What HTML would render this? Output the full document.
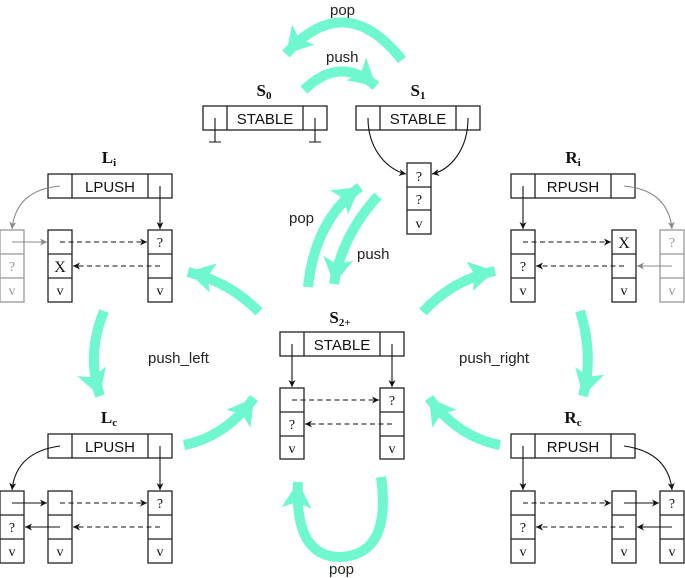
<!DOCTYPE html>
<html><head><meta charset="utf-8"><style>
html,body{margin:0;padding:0;background:#fff}
svg{display:block}
.s{font-family:"Liberation Sans",sans-serif;font-size:15px;fill:#222}
.h{font-family:"Liberation Sans",sans-serif;font-size:15px;fill:#111;text-anchor:middle}
.c{font-family:"Liberation Serif",serif;font-size:14px;fill:#111;text-anchor:middle}
.g{fill:#999}
.lb{font-family:"Liberation Serif",serif;font-size:17px;font-weight:bold;fill:#111;text-anchor:middle}
.sub{font-size:11px}
.box{fill:#fff;stroke:#222;stroke-width:1.3}
.gbox{fill:#fff;stroke:#999;stroke-width:1.3}
.t{fill:none;stroke:#6ff7cf;stroke-width:10}
.a{fill:none;stroke:#111;stroke-width:1.1}
.ga{fill:none;stroke:#888;stroke-width:1.1}
.d{stroke-dasharray:5,3.5}
</style></head><body>
<svg width="685" height="578" viewBox="0 0 685 578" xmlns="http://www.w3.org/2000/svg">
<defs>
<marker id="T" markerUnits="userSpaceOnUse" markerWidth="50" markerHeight="50" refX="6" refY="0" viewBox="-25 -25 50 50" orient="auto"><path d="M-20,-15 L6,0 L-20,15 L-14,0 Z" fill="#6ff7cf"/></marker>
<marker id="B" markerUnits="userSpaceOnUse" markerWidth="12" markerHeight="12" refX="0" refY="0" viewBox="-8 -6 12 12" orient="auto"><path d="M-7,-3.5 L0,0 L-7,3.5 L-5,0 Z" fill="#111"/></marker>
<marker id="G" markerUnits="userSpaceOnUse" markerWidth="12" markerHeight="12" refX="0" refY="0" viewBox="-8 -6 12 12" orient="auto"><path d="M-7,-3.5 L0,0 L-7,3.5 L-5,0 Z" fill="#888"/></marker>
</defs>

<!-- teal arrows -->
<path class="t" d="M402,60 Q345,-12 286,54" marker-end="url(#T)"/>
<path class="t" d="M304,90 Q340,55 376,86" marker-end="url(#T)"/>
<path class="t" d="M308,287 Q315,220 360,187" marker-end="url(#T)"/>
<path class="t" d="M378,196 Q342,235 334,284" marker-end="url(#T)"/>
<path class="t" d="M259,312 Q230,282 188,272" marker-end="url(#T)"/>
<path class="t" d="M423,312 Q452,280 495,271" marker-end="url(#T)"/>
<path class="t" d="M184,445 Q225,437 254,398" marker-end="url(#T)"/>
<path class="t" d="M500,445 Q458,437 429,398" marker-end="url(#T)"/>
<path class="t" d="M104,311 Q86,355 100,396" marker-end="url(#T)"/>
<path class="t" d="M580,311 Q594,355 583,396" marker-end="url(#T)"/>
<path class="t" d="M381,477 Q392,555 340,557 Q294,557 298,482" marker-end="url(#T)"/>

<!-- teal labels -->
<text class="s" x="330" y="15">pop</text>
<text class="s" x="326" y="62">push</text>
<text class="s" x="289" y="223">pop</text>
<text class="s" x="357" y="259">push</text>
<text class="s" x="148" y="363">push_left</text>
<text class="s" x="459" y="363">push_right</text>
<text class="s" x="329" y="574">pop</text>

<!-- state labels -->
<text class="lb" x="264" y="96">S<tspan class="sub" dy="3">0</tspan></text>
<text class="lb" x="418" y="96">S<tspan class="sub" dy="3">1</tspan></text>
<text class="lb" x="109" y="163">L<tspan class="sub" dy="3">i</tspan></text>
<text class="lb" x="573" y="163">R<tspan class="sub" dy="3">i</tspan></text>
<text class="lb" x="109" y="423">L<tspan class="sub" dy="3">c</tspan></text>
<text class="lb" x="573" y="423">R<tspan class="sub" dy="3">c</tspan></text>
<text class="lb" x="340" y="323">S<tspan class="sub" dy="3">2+</tspan></text>

<!-- headers -->
<g>
<rect class="box" x="203" y="106" width="124" height="24"/><line class="box" x1="227" y1="106" x2="227" y2="130"/><line class="box" x1="303" y1="106" x2="303" y2="130"/><text class="h" x="265" y="124">STABLE</text>
<rect class="box" x="356" y="106" width="124" height="24"/><line class="box" x1="380" y1="106" x2="380" y2="130"/><line class="box" x1="456" y1="106" x2="456" y2="130"/><text class="h" x="418" y="124">STABLE</text>
<rect class="box" x="48" y="174" width="124" height="24"/><line class="box" x1="72" y1="174" x2="72" y2="198"/><line class="box" x1="148" y1="174" x2="148" y2="198"/><text class="h" x="110" y="192">LPUSH</text>
<rect class="box" x="48" y="434" width="124" height="24"/><line class="box" x1="72" y1="434" x2="72" y2="458"/><line class="box" x1="148" y1="434" x2="148" y2="458"/><text class="h" x="110" y="452">LPUSH</text>
<rect class="box" x="511" y="174" width="124" height="24"/><line class="box" x1="535" y1="174" x2="535" y2="198"/><line class="box" x1="611" y1="174" x2="611" y2="198"/><text class="h" x="573" y="192">RPUSH</text>
<rect class="box" x="511" y="434" width="124" height="24"/><line class="box" x1="535" y1="434" x2="535" y2="458"/><line class="box" x1="611" y1="434" x2="611" y2="458"/><text class="h" x="573" y="452">RPUSH</text>
<rect class="box" x="280" y="332" width="124" height="24"/><line class="box" x1="304" y1="332" x2="304" y2="356"/><line class="box" x1="380" y1="332" x2="380" y2="356"/><text class="h" x="342" y="350">STABLE</text>
</g>

<!-- S0 bottoms -->
<path class="a" d="M215,118 V142 M209,142 H221 M315,118 V142 M309,142 H321"/>

<!-- stacks -->
<g>
<rect class="box" x="407" y="163" width="24" height="71"/><path class="box" d="M407,187 H431 M407,210 H431"/>
<text class="c" x="419" y="181">?</text><text class="c" x="419" y="204">?</text><text class="c" x="419" y="228">v</text>
<rect class="gbox" x="0" y="230" width="24" height="72"/><path class="gbox" d="M0,254 H24 M0,278 H24"/>
<text class="c g" x="12" y="271">?</text><text class="c g" x="12" y="295">v</text>
<rect class="box" x="48" y="230" width="24" height="72"/><path class="box" d="M48,254 H72 M48,278 H72"/>
<text class="c" x="60" y="272" style="font-size:16px">X</text><text class="c" x="60" y="295">v</text>
<rect class="box" x="148" y="230" width="24" height="72"/><path class="box" d="M148,254 H172 M148,278 H172"/>
<text class="c" x="160" y="247">?</text><text class="c" x="160" y="295">v</text>
<rect class="box" x="0" y="491" width="24" height="72"/><path class="box" d="M0,515 H24 M0,539 H24"/>
<text class="c" x="12" y="532">?</text><text class="c" x="12" y="556">v</text>
<rect class="box" x="48" y="491" width="24" height="72"/><path class="box" d="M48,515 H72 M48,539 H72"/>
<text class="c" x="60" y="556">v</text>
<rect class="box" x="148" y="491" width="24" height="72"/><path class="box" d="M148,515 H172 M148,539 H172"/>
<text class="c" x="160" y="508">?</text><text class="c" x="160" y="556">v</text>
<rect class="box" x="511" y="230" width="24" height="72"/><path class="box" d="M511,254 H535 M511,278 H535"/>
<text class="c" x="523" y="271">?</text><text class="c" x="523" y="295">v</text>
<rect class="box" x="612" y="230" width="24" height="72"/><path class="box" d="M612,254 H636 M612,278 H636"/>
<text class="c" x="624" y="248" style="font-size:16px">X</text><text class="c" x="624" y="295">v</text>
<rect class="gbox" x="660" y="230" width="24" height="72"/><path class="gbox" d="M660,254 H684 M660,278 H684"/>
<text class="c g" x="672" y="247">?</text><text class="c g" x="672" y="295">v</text>
<rect class="box" x="511" y="491" width="24" height="72"/><path class="box" d="M511,515 H535 M511,539 H535"/>
<text class="c" x="523" y="532">?</text><text class="c" x="523" y="556">v</text>
<rect class="box" x="612" y="491" width="24" height="72"/><path class="box" d="M612,515 H636 M612,539 H636"/>
<text class="c" x="624" y="556">v</text>
<rect class="box" x="660" y="491" width="24" height="72"/><path class="box" d="M660,515 H684 M660,539 H684"/>
<text class="c" x="672" y="508">?</text><text class="c" x="672" y="556">v</text>
<rect class="box" x="280" y="388" width="24" height="71"/><path class="box" d="M280,412 H304 M280,436 H304"/>
<text class="c" x="292" y="429">?</text><text class="c" x="292" y="453">v</text>
<rect class="box" x="380" y="388" width="24" height="71"/><path class="box" d="M380,412 H404 M380,436 H404"/>
<text class="c" x="392" y="405">?</text><text class="c" x="392" y="453">v</text>
</g>

<!-- connectors -->
<path class="a" d="M368,118 C368,150 388,170 406,174" marker-end="url(#B)"/>
<path class="a" d="M468,118 C468,150 450,170 432,174" marker-end="url(#B)"/>

<path class="a" d="M160,186 V229" marker-end="url(#B)"/>
<path class="ga" d="M60,186 Q16,190 12,229" marker-end="url(#G)"/>
<path class="ga" d="M12,242 H47" marker-end="url(#G)"/>
<path class="a d" d="M60,242 H147" marker-end="url(#B)"/>
<path class="a d" d="M160,266 H73" marker-end="url(#B)"/>

<path class="a" d="M160,446 V490" marker-end="url(#B)"/>
<path class="a" d="M60,446 Q16,452 12,490" marker-end="url(#B)"/>
<path class="a" d="M12,503 H47" marker-end="url(#B)"/>
<path class="a d" d="M60,503 H147" marker-end="url(#B)"/>
<path class="a d" d="M160,527 H73" marker-end="url(#B)"/>
<path class="a" d="M60,527 H25" marker-end="url(#B)"/>

<path class="a" d="M523,186 V229" marker-end="url(#B)"/>
<path class="ga" d="M624,186 Q668,190 672,229" marker-end="url(#G)"/>
<path class="a d" d="M523,242 H611" marker-end="url(#B)"/>
<path class="a d" d="M624,266 H536" marker-end="url(#B)"/>
<path class="ga" d="M672,266 H637" marker-end="url(#G)"/>

<path class="a" d="M523,446 V490" marker-end="url(#B)"/>
<path class="a" d="M624,446 Q668,452 672,490" marker-end="url(#B)"/>
<path class="a d" d="M523,503 H611" marker-end="url(#B)"/>
<path class="a" d="M624,503 H659" marker-end="url(#B)"/>
<path class="a d" d="M624,527 H536" marker-end="url(#B)"/>
<path class="a" d="M672,527 H637" marker-end="url(#B)"/>

<path class="a" d="M292,344 V387" marker-end="url(#B)"/>
<path class="a" d="M392,344 V387" marker-end="url(#B)"/>
<path class="a d" d="M292,400 H379" marker-end="url(#B)"/>
<path class="a d" d="M392,424 H305" marker-end="url(#B)"/>
</svg>
</body></html>
